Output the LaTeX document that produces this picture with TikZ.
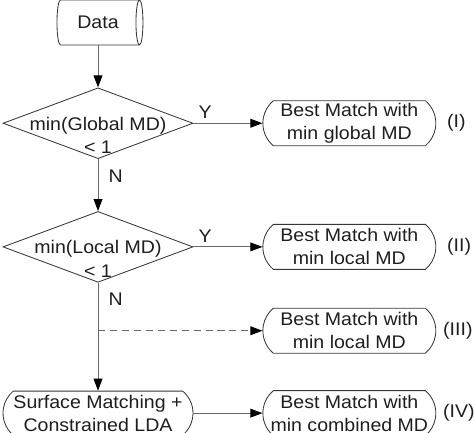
\documentclass[tikz,border=0pt]{standalone}
\usepackage{fontspec}
\setmainfont{Liberation Sans}[FakeStretch=1.07]
\usepackage{xcolor}
\definecolor{fcline}{RGB}{105,105,105}
\definecolor{fcborder}{RGB}{55,55,55}
\definecolor{fctext}{RGB}{30,30,30}
\usetikzlibrary{arrows.meta, positioning, shapes.geometric, shapes.misc}

\begin{document}
\begin{tikzpicture}[
  node distance=1.05cm and 1.725cm,
  every node/.style={font=\fontsize{13}{16.4}\selectfont, text=fctext},
  datanode/.style={cylinder, aspect=0.55, draw=fcborder, line width=0.6pt,
                   minimum width=1.125cm, minimum height=2.15cm, inner sep=0pt},
  decision/.style={diamond, draw=fcborder, line width=0.6pt,
                   minimum width=4.75cm, minimum height=1.77cm, inner sep=0pt},
  result/.style={rounded rectangle, rounded rectangle arc length=100, draw=fcborder, line width=0.6pt,
                 minimum width=4.325cm, minimum height=1.125cm, inner sep=0pt, align=center},
  process/.style={result, minimum width=4.75cm, minimum height=1.1cm},
  arr/.style={-{Triangle[length=0.3cm, width=0.22cm, color=black]}, draw=fcline, line width=0.6pt},
  dasharr/.style={arr, dash pattern=on 5pt off 3.5pt},
  lbl/.style={inner sep=3pt}
]
  \useasboundingbox (0,0) rectangle (11.85,-10.825);
  % Input
  \node[datanode] (data) at (2.45,-0.5625) {Data};
  % Decisions
  \node[decision, below=1.05cm of data,
        label={[align=center, yshift=-0.3cm]center:min(Global MD)\\< 1}] (glob) {};
  \node[decision, below=1.3cm of glob,
        label={[align=center, yshift=-0.3cm]center:min(Local MD)\\< 1}] (loc) {};
  % Fallback
  \node[process, below=2.7cm of loc] (lda) {Surface Matching +\\Constrained LDA};
  % Results
  \node[result, right=of glob] (res1) {Best Match with\\min global MD};
  \node[result, right=of loc] (res2) {Best Match with\\min local MD};
  \node[result, below=0.95cm of res2] (res3) {Best Match with\\min local MD};
  \node[result, right=of lda] (res4) {Best Match with\\min combined MD};
  % Case numbers
  \node[right=0.15cm of res1] (c1) {(I)};
  \node[right=0.15cm of res2] (c2) {(II)};
  \node[right=0.05cm of res3] (c3) {(III)};
  \node[right=0.05cm of res4] (c4) {(IV)};

  % Arrows
  \draw[arr] (data.south) -- (glob.north);
  \draw[arr] (glob.east) -- (res1.west) node[pos=0.17, above, lbl] {Y};
  \draw[arr] (glob.south) -- (loc.north) node[pos=0.33, right, lbl, xshift=0.15cm] {N};
  \draw[arr] (loc.east) -- (res2.west) node[pos=0.17, above, lbl] {Y};
  \draw[arr] (loc.south) -- (lda.north) node[pos=0.15, right, lbl, xshift=0.15cm] {N};
  \coordinate (branch) at (loc |- res3);
  \draw[dasharr] (branch) -- (res3.west);
  \draw[arr] (lda.east) -- (res4.west);
\end{tikzpicture}
\end{document}
